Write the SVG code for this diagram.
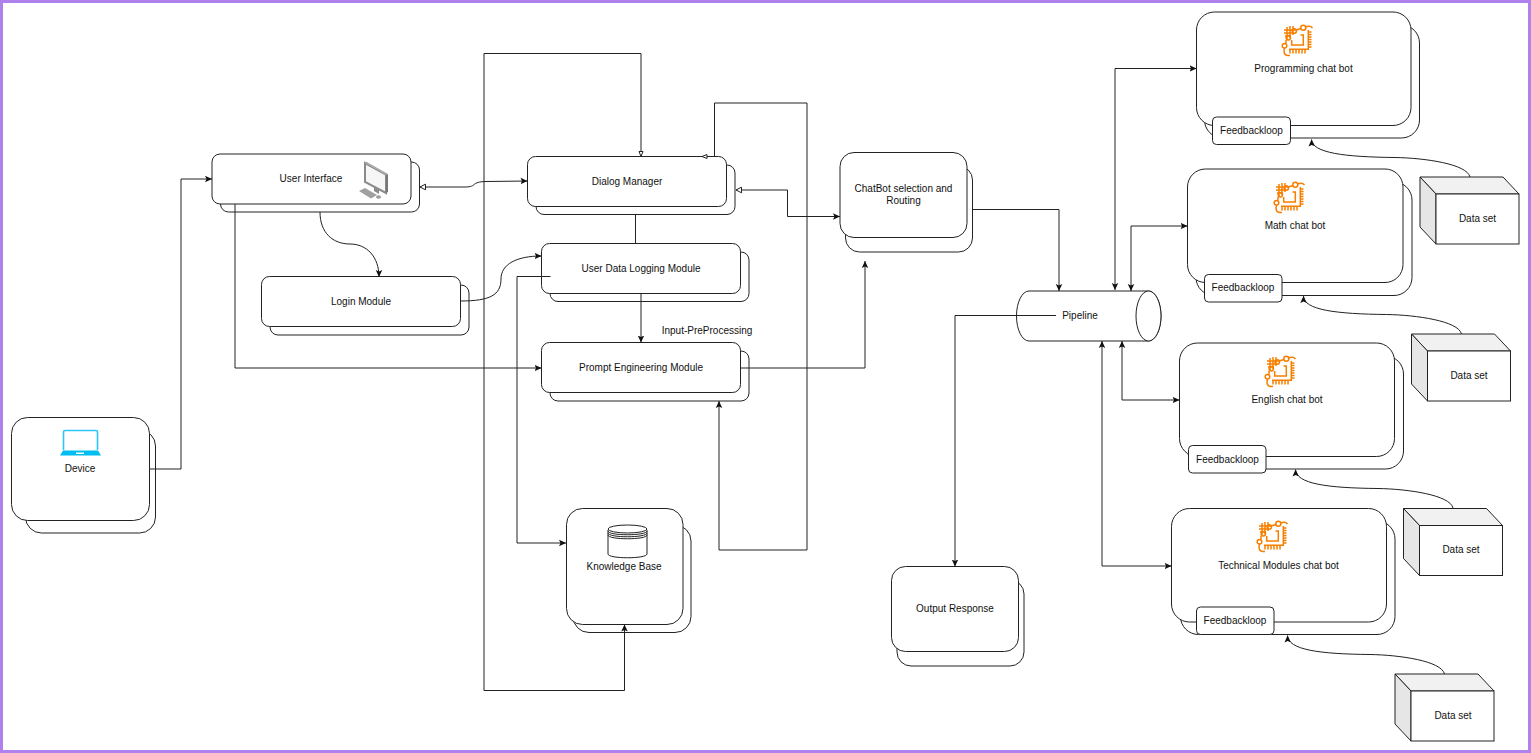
<svg xmlns="http://www.w3.org/2000/svg" width="1531" height="753" viewBox="0 0 1531 753">
<style>
text{font-family:"Liberation Sans",Arial,sans-serif;font-size:10px;fill:#111;text-anchor:middle}
.b{fill:#fff;stroke:#222;stroke-width:1}
.c{fill:none;stroke:#222;stroke-width:1}
.f{marker-end:url(#a)}
.s{marker-start:url(#a)}
.o{marker-start:url(#t)}
.n{marker-start:url(#u)}
.chip path,.chip circle{fill:none;stroke:#f77f00;stroke-width:1.5}
</style>
<defs>
<marker id="a" markerUnits="userSpaceOnUse" markerWidth="10" markerHeight="10" refX="7" refY="4" orient="auto-start-reverse" viewBox="0 0 10 8"><path d="M0,0.750 L7,4 L0,7.250 L1.500,4 Z" fill="#111"/></marker>
<marker id="t" markerUnits="userSpaceOnUse" markerWidth="10" markerHeight="10" refX="7" refY="4" orient="auto-start-reverse" viewBox="0 0 10 8"><path d="M1.500,1.200 L7,4 L1.500,6.800 Z" fill="#fff" stroke="#222"/></marker>
<marker id="u" markerUnits="userSpaceOnUse" markerWidth="10" markerHeight="10" refX="7" refY="4" orient="auto-start-reverse" viewBox="0 0 10 8"><path d="M2,2 L7,4 L2,6 Z" fill="#fff" stroke="#222"/></marker>
<g id="chipIcon" class="chip">
<path d="M5,3V15M8,2V14M11,2V11M2,6H14M2,9H12M3,12H9"/>
<circle cx="6.300" cy="13.700" r="2.200"/><circle cx="12.300" cy="7" r="2.200"/><circle cx="21.300" cy="3.700" r="2.500"/>
<path d="M14,6L19,4.500M23.500,3C26,2 29,2 30.500,4"/>
<path d="M26.300,6V25.300H7M26.300,8H29.500M26.300,10.500H29.500M26.300,13H29.500M26.300,15.500H29.500M26.300,18H29.500M26.300,20.500H29.500M26.300,23H29.500"/>
<path d="M8,25.500V29.500M11,25.500V29.500M14,25.500V29.500M17,25.500V29.500M20,25.500V29.500M23,25.500V29.500"/>
<path d="M4,16V19.500"/><path d="M18.500,11H21.300V21H9.700V16"/>
<circle cx="2.500" cy="21.700" r="2.300"/><path d="M2.500,24C1.500,28 2,31.500 6,31.500H8"/>
</g>
<g id="cube">
<path d="M0,0H83L99,17H16Z" fill="#f1f1f1" stroke="#222"/>
<path d="M0,0L16,17V67L0,50Z" fill="#e6e6e6" stroke="#222"/>
<rect x="16" y="17" width="83" height="50" fill="#fff" stroke="#222"/>
</g>
</defs>
<rect x="1.500" y="1.500" width="1528" height="750" fill="#fff" stroke="#ae81ec" stroke-width="3"/>

<g id="device"><rect class="b" x="25.500" y="430" width="130" height="103" rx="16"/><rect class="b" x="11.500" y="417.500" width="138" height="103" rx="16"/>
<path d="M63.500,450V432q0-1.500 1.500-1.500H96q1.500 0 1.500 1.500V450" fill="#fff" stroke="#2cc6f5" stroke-width="1.600"/><path d="M63,450.500H98L101,455.500H60Z" fill="#00bef2"/><rect x="76" y="452.500" width="8" height="1.500" fill="#fff"/>
<text x="80" y="472">Device</text></g>

<g id="user-interface"><rect class="b" x="220.500" y="162" width="199" height="50" rx="8"/><rect class="b" x="212" y="154" width="199" height="50" rx="8"/>
<text x="311" y="182">User Interface</text>
<path d="M365,163L386,174.500V193L365,182Z" fill="#f6f6f6" stroke="#8a8a8a" stroke-width="2"/><path d="M386,174.500V193L388,192V174Z" fill="#777"/><path d="M365,163L366,161.500L388,174L386,175Z" fill="#aaa"/><path d="M374,187L379,190V194L374,191Z" fill="#8a8a8a"/><path d="M359,191L365,188L377,195L371,198.500Z" fill="#a0a0a0"/><ellipse cx="378.500" cy="197" rx="2.500" ry="1.700" fill="#9a9a9a"/></g>

<g id="login-module"><rect class="b" x="270" y="285" width="199" height="50" rx="8"/><rect class="b" x="261.500" y="276.500" width="199" height="50" rx="8"/><text x="361" y="304.500">Login Module</text></g>

<g id="dialog-manager"><rect class="b" x="536" y="165" width="199" height="49.500" rx="8"/><rect class="b" x="527.500" y="156.500" width="199" height="50" rx="8"/><text x="627" y="184.500">Dialog Manager</text></g>

<g id="user-data-logging"><rect class="b" x="550" y="252" width="199" height="49.500" rx="8"/><rect class="b" x="541.500" y="243.500" width="199" height="50" rx="8"/><text x="641" y="271.500">User Data Logging Module</text></g>

<g id="prompt-engineering"><rect class="b" x="550" y="351" width="199" height="50" rx="8"/><rect class="b" x="541.500" y="342.500" width="199" height="50" rx="8"/><text x="641" y="370.500">Prompt Engineering Module</text></g>

<g id="chatbot-routing"><rect class="b" x="845.500" y="166" width="127" height="86" rx="14"/><rect class="b" x="840" y="152.500" width="127" height="85" rx="14"/><text x="903.500" y="191.500">ChatBot selection and</text><text x="903.500" y="204">Routing</text></g>

<g id="knowledge-base"><rect class="b" x="573" y="525" width="118" height="107.500" rx="16"/><rect class="b" x="566.500" y="508.500" width="116.500" height="116" rx="16"/>
<path d="M608,530V554C608,559 647,559 647,554V530" class="b"/><ellipse cx="627.500" cy="529" rx="19.500" ry="4" class="b"/><path class="c" d="M608,531C608,536 647,536 647,531M608,533C608,538 647,538 647,533M608,535C608,540 647,540 647,535"/>
<text x="624" y="569.500">Knowledge Base</text></g>

<g id="output-response"><rect class="b" x="897" y="580" width="127" height="86" rx="14"/><rect class="b" x="891.500" y="566.500" width="127" height="85" rx="14"/><text x="955" y="612">Output Response</text></g>

<g id="pipeline"><path class="b" d="M1029,291H1148.500A12.500,25 0 0 1 1148.500,341H1029A12.500,25 0 0 1 1029,291Z"/><ellipse class="b" cx="1148.500" cy="316" rx="12.500" ry="25"/><text x="1080" y="318.500">Pipeline</text></g>

<g id="programming-bot"><rect class="b" x="1204.500" y="25" width="215" height="113" rx="18"/><rect class="b" x="1196.500" y="12" width="214.500" height="113.500" rx="18"/><use href="#chipIcon" x="1282" y="24"/><text x="1303.500" y="71.500">Programming chat bot</text><rect class="b" x="1212.500" y="117" width="78" height="27.500" rx="4"/><text x="1251.500" y="134">Feedbackloop</text></g>

<g id="math-bot"><rect class="b" x="1196" y="182" width="216" height="113.500" rx="18"/><rect class="b" x="1187.500" y="169" width="215.500" height="113.500" rx="18"/><use href="#chipIcon" x="1274" y="181"/><text x="1295" y="229">Math chat bot</text><rect class="b" x="1204.500" y="274.500" width="77.500" height="27.500" rx="4"/><text x="1243" y="291">Feedbackloop</text></g>

<g id="english-bot"><rect class="b" x="1188" y="356" width="215.500" height="113" rx="18"/><rect class="b" x="1179.500" y="343" width="215" height="113.500" rx="18"/><use href="#chipIcon" x="1265" y="355"/><text x="1287" y="403">English chat bot</text><rect class="b" x="1188.500" y="445.500" width="77.500" height="27.500" rx="4"/><text x="1227.500" y="462.500">Feedbackloop</text></g>

<g id="technical-bot"><rect class="b" x="1180.500" y="521" width="214.500" height="113.500" rx="18"/><rect class="b" x="1171.500" y="508.500" width="215" height="113.500" rx="18"/><use href="#chipIcon" x="1257" y="520"/><text x="1278.500" y="568.500">Technical Modules chat bot</text><rect class="b" x="1196.500" y="607" width="77.500" height="27.500" rx="4"/><text x="1235" y="624">Feedbackloop</text></g>

<g id="dataset-1"><use href="#cube" x="1420" y="177"/><text x="1477.500" y="221.500">Data set</text></g>
<g id="dataset-2"><use href="#cube" x="1411.500" y="334"/><text x="1469" y="378.500">Data set</text></g>
<g id="dataset-3"><use href="#cube" x="1403.500" y="508.500"/><text x="1461" y="552.500">Data set</text></g>
<g id="dataset-4"><use href="#cube" x="1395" y="674"/><text x="1453" y="718.500">Data set</text></g>

<g id="connectors">
<path class="c f" d="M149.500,469H181V179H212"/>
<path class="c f o" d="M420,187H465C478,187 470,181.500 487,181.500L527.500,181"/>
<path class="c f" d="M320,212C320,233 333,244 350,244C367,244 379,257 379,277"/>
<path class="c f" d="M235,204V368H541.500"/>
<path class="c f" d="M460.500,301C490,301 501,295 501,279C501,264 517,256 541.500,256"/>
<path class="c" d="M635.500,214.500V243.500"/>
<path class="c f" d="M641,293.500V342.500"/>
<path class="c f" d="M740.500,368H865V261"/>
<path class="c f o" d="M736,190H787.500V216.500H840"/>
<path class="c f" d="M550.500,276.500H517V543H566"/>
<path class="c f n" d="M641,156.500V53.500H484V690.500H624.500V624.500"/>
<path class="c f n" d="M702,156.500H714.500V103H807V550H719V401"/>
<path class="c f" d="M972.500,209.500H1059V291"/>
<path class="c f" d="M1056,315.500H955V566.500"/>
<path class="c f s" d="M1115,290V68.500H1196.500"/>
<path class="c f s" d="M1131,291V226H1187.500"/>
<path class="c f s" d="M1122,341V400H1179.500"/>
<path class="c f s" d="M1102,341V566H1171.500"/>
<path class="c f" d="M1470,177C1467,164 1425,158 1395,157.500C1345,157 1312,153 1311.500,139.500"/>
<path class="c f" d="M1461.500,334C1458.500,321 1416.500,315 1386.500,314.500C1336.500,314 1303.500,310 1303.500,296"/>
<path class="c f" d="M1453,508C1450,495 1408,489 1378,488.500C1328,488 1296,484 1295.500,469.500"/>
<path class="c f" d="M1444.500,674C1441.500,661 1400,655 1370,654.500C1320,654 1288,650 1287.500,635.500"/>
</g>
<text id="input-preprocessing" x="707" y="333.500">Input-PreProcessing</text>
</svg>
